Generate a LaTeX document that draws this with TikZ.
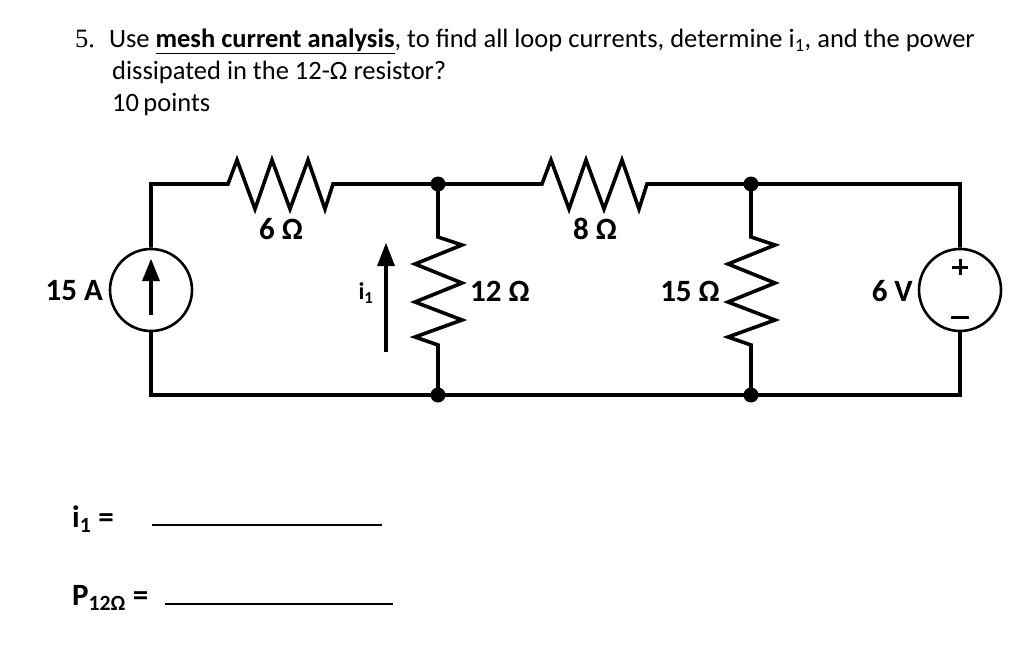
\documentclass[tikz,border=0pt]{standalone}
\usepackage{fontspec}
\setmainfont{Carlito}
\begin{document}
\begin{tikzpicture}[x=1pt,y=-1pt,
  w/.style={line width=3.6pt,line join=miter},
  dot/.style={circle,fill=black,inner sep=0pt,minimum size=15pt},
  lbl/.style={font=\fontsize{31}{33}\selectfont\bfseries,inner sep=0pt},
  src/.style={circle,draw,line width=2.6pt,minimum size=82pt,inner sep=0pt}]
\useasboundingbox (0,0) rectangle (1024,666);
% title
\node[anchor=base west,inner sep=0pt,font=\fontsize{26.5}{28}\selectfont] (t1) at (75,48)
  {{\fontspec{Liberation Serif}5.}\hspace{14pt}Use \underline{\textbf{mesh current analysis}}, to find all loop currents, determine i\textsubscript{1}, and the power};
\node[anchor=base west,inner sep=0pt,font=\fontsize{26.5}{28}\selectfont] (t2) at (112,80) {dissipated in the 12-Ω resistor?};
\node[anchor=base west,inner sep=0pt,font=\fontsize{26.5}{28}\selectfont] (t3) at (112,112) {10\,points};
% nodes
\coordinate (tl) at (151,184); \coordinate (bl) at (151,395);
\node[dot] (na) at (438,184) {}; \node[dot] (nb) at (438,395) {};
\node[dot] (nc) at (751,184) {}; \node[dot] (nd) at (751,395) {};
\coordinate (tr) at (960,184); \coordinate (br) at (960,395);
\node[src] (cs) at (151,290) {};
\node[src] (vs) at (960,290) {};
% wires
\draw[w] (cs.north) -- (tl) -- (228,184) -- (237,160) -- (255,209) -- (272,160) -- (290,209) -- (308,160) -- (325,209) -- (333,184) -- (na.center)
  -- (542,184) -- (551,160) -- (569,209) -- (586,160) -- (604,209) -- (622,160) -- (639,209) -- (647,184) -- (nc.center) -- (tr) -- (vs.north);
\draw[w] (cs.south) -- (bl) -- (nb.center) -- (nd.center) -- (br) -- (vs.south);
\draw[w] (na.center) -- (438,237) -- (462,245) -- (415,264) -- (462,283) -- (415,302) -- (462,320) -- (415,337) -- (438,345) -- (nb.center);
\draw[w] (nc.center) -- (751,237) -- (775,245) -- (728,264) -- (775,283) -- (728,302) -- (775,320) -- (728,337) -- (751,345) -- (nd.center);
% arrows
\fill (151,259) -- (142,281) -- (160,281) -- cycle;
\draw[line width=3.6pt] (151,315) -- (151,278);
\fill (386,243) -- (377,266) -- (395,266) -- cycle;
\draw[line width=3.6pt] (386,352) -- (386,262);
% + -
\draw[line width=3pt] (960,259) -- (960,275) (952,267) -- (968,267);
\draw[line width=3pt] (951,317) -- (969,317);
% labels
\node[lbl] (l6) at (281,229) {6 Ω};
\node[lbl] (l8) at (595,229) {8 Ω};
\node[lbl,anchor=west] (l12) at (470,291) {12 Ω};
\node[lbl,anchor=east] (l15) at (720,291) {15 Ω};
\node[lbl,anchor=east] (l6v) at (913,291) {6 V};
\node[lbl,anchor=east] (l15a) at (103,291) {15 A};
\node[inner sep=0pt,font=\fontsize{24}{26}\selectfont\bfseries] (li) at (366,293) {i\textsubscript{1}};
% answers
\node[anchor=base west,inner sep=0pt,font=\fontsize{31}{33}\selectfont\bfseries] (a1) at (72,527) {i\textsubscript{1} =};
\draw[line width=2pt] (152,525) -- (382,525);
\node[anchor=base west,inner sep=0pt,font=\fontsize{31}{33}\selectfont\bfseries] (a2) at (72,605) {P\textsubscript{12Ω} =};
\draw[line width=2pt] (165,604) -- (393,604);
\end{tikzpicture}
\end{document}
